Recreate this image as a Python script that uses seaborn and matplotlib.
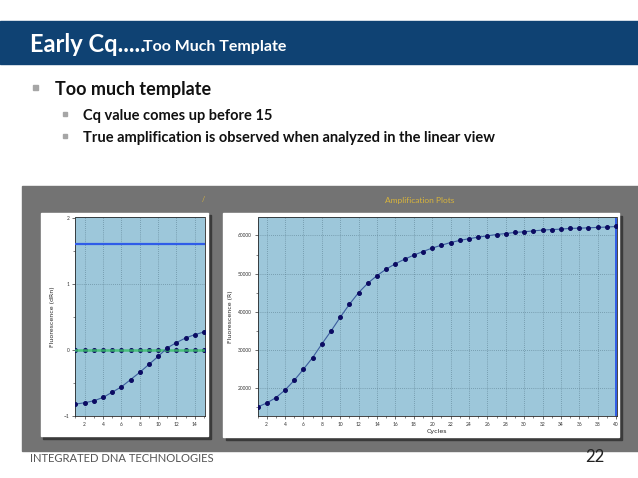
import matplotlib
matplotlib.use("Agg")
import matplotlib.pyplot as plt
import seaborn as sns
import pandas as pd
from matplotlib.patches import Rectangle
from matplotlib.ticker import MultipleLocator

# --- data ---
cycles_lin = list(range(1, 41))
fluor_lin = [15100, 16150, 17550, 19550, 22100, 25000, 28050, 31600, 35000, 38600,
             42000, 45050, 47500, 49500, 51200, 52600, 53800, 54850, 55800, 56700,
             57450, 58150, 58700, 59150, 59550, 59900, 60250, 60500, 60800, 60950,
             61200, 61400, 61550, 61650, 61850, 61900, 62000, 62100, 62200, 62350]

cycles_log = list(range(1, 16))
drn_sample = [-0.82, -0.80, -0.77, -0.72, -0.64, -0.56, -0.45, -0.34, -0.22, -0.10,
              0.03, 0.11, 0.18, 0.23, 0.27]
drn_flat = [0.0, 0.0, 0.0, 0.0, 0.0, 0.0, 0.0, 0.0, 0.0, 0.0, 0.0, 0.0, 0.0, 0.0, 0.0]
threshold_green = 0.0
threshold_blue = 1.6

left_yticks = [-1, 0, 1, 2]
left_xticks = [2, 4, 6, 8, 10, 12, 14]
right_yticks = [20000, 30000, 40000, 50000, 60000]
right_xticks = list(range(2, 41, 2))

sns.set_style("ticks")
plt.rcParams['font.family'] = ['Lato', 'DejaVu Sans']

W, H = 638, 478
fig = plt.figure(figsize=(6.38, 4.78), dpi=100)
fig.patch.set_facecolor("white")


def box(x0, y0, x1, y1, **kw):
    # pixel coords (top-left origin) -> figure fraction
    fig.patches.append(Rectangle((x0 / W, 1 - y1 / H), (x1 - x0) / W, (y1 - y0) / H,
                                 transform=fig.transFigure, zorder=-5, **kw))


def px(x, y):
    return x / W, 1 - y / H


# title bar
box(0, 21, W, 64, color="#0f4273")
fig.text(*px(30, 45), "Early Cq.....", color="white", fontsize=17, fontweight="bold", va="center")
fig.text(*px(143, 47), "Too Much Template", color="white", fontsize=11.5, fontweight="bold", va="center")

# bullets
box(33, 85, 38, 90, color="#a6a6a6")
fig.text(*px(55, 90), "Too much template", fontsize=13, fontweight="bold", va="center", color="#111111")
for yy, txt in [(116, "Cq value comes up before 15"),
                (138, "True amplification is observed when analyzed in the linear view")]:
    box(63, yy - 4, 67, yy, color="#a6a6a6")
    fig.text(*px(83, yy), txt, fontsize=10.5, fontweight="bold", va="center", color="#111111")

# grey screenshot panel and windows
box(22, 186, W, 451, color="#737373")
box(43, 215, 211, 439, color="#3a3a3a")
box(41, 213, 208, 436, color="white")
box(226, 216, 622, 440, color="#3a3a3a")
box(223, 213, 619, 437, color="white")
fig.text(*px(420, 200), "Amplification Plots", color="#d8b43c", fontsize=6, ha="center", va="center")
fig.text(*px(203, 200), "/", color="#d8b43c", fontsize=5, ha="center", va="center")

# footer
fig.text(*px(30, 459), "INTEGRATED DNA TECHNOLOGIES", color="#555555", fontsize=8.1, va="center")
fig.text(*px(585, 457), "22", color="#222222", fontsize=12, va="center")

plot_bg = "#9dc7da"
grid_kw = dict(color="#56798a", linestyle=(0, (1, 2)), linewidth=0.5)
mk = dict(marker="o", markersize=2.8, markerfacecolor="#0b0b62", markeredgecolor="#0b0b62")

# ---- left (dRn) plot ----
axl = fig.add_axes([75 / W, 1 - 416 / H, (204.5 - 75) / W, (416 - 217.5) / H])
axl.set_zorder(5)
axl.set_facecolor(plot_bg)
df_l = pd.DataFrame({"Cycle": cycles_log, "dRn": drn_sample, "flat": drn_flat})
axl.axhline(threshold_blue, color="#2f5ce8", linewidth=1.6, zorder=3)
sns.lineplot(data=df_l, x="Cycle", y="flat", ax=axl, color="#3cbf6e", linewidth=0, zorder=4, **mk)
axl.axhline(threshold_green, color="#3cbf6e", linewidth=1.8, zorder=4.5, alpha=0.85)
sns.lineplot(data=df_l, x="Cycle", y="dRn", ax=axl, color="#3b5d9e", linewidth=0.8, zorder=5, **mk)
axl.set_xlim(0.95, 15.05)
axl.set_ylim(-1, 2)
axl.set_xticks(left_xticks)
axl.set_yticks(left_yticks)
axl.yaxis.set_minor_locator(MultipleLocator(0.5))
axl.xaxis.set_minor_locator(MultipleLocator(1))
for v in left_xticks:
    axl.axvline(v, zorder=1, **grid_kw)
for v in [1]:
    axl.axhline(v, zorder=1, **grid_kw)
axl.set_xlabel("")
axl.set_ylabel("Fluorescence (dRn)", fontsize=4.5, labelpad=6, family=["DejaVu Sans"])
axl.tick_params(labelsize=3.5, length=2, width=0.5, pad=2, colors="#333333")
axl.tick_params(which="minor", length=1.2, width=0.4)
for s in axl.spines.values():
    s.set_linewidth(0.6)

# ---- right (linear) plot ----
axr = fig.add_axes([257.5 / W, 1 - 416 / H, (617 - 257.5) / W, (416 - 217.5) / H])
axr.set_zorder(5)
axr.set_facecolor(plot_bg)
df_r = pd.DataFrame({"Cycles": cycles_lin, "Fluorescence": fluor_lin})
sns.lineplot(data=df_r, x="Cycles", y="Fluorescence", ax=axr, color="#3b5d9e", linewidth=0.8,
             zorder=5, **mk)
axr.axvline(40, color="#2f5ce8", linewidth=1.4, zorder=4)
axr.set_xlim(1, 40.1)
axr.set_ylim(12750, 64700)
axr.set_xticks(right_xticks)
axr.set_yticks(right_yticks)
axr.yaxis.set_minor_locator(MultipleLocator(5000))
axr.xaxis.set_minor_locator(MultipleLocator(1))
for v in right_xticks:
    axr.axvline(v, zorder=1, **grid_kw)
for v in right_yticks:
    axr.axhline(v, zorder=1, **grid_kw)
axr.set_xlabel("Cycles", fontsize=4.5, labelpad=2, family=["DejaVu Sans"])
axr.set_ylabel("Fluorescence (R)", fontsize=4.5, labelpad=4, family=["DejaVu Sans"])
axr.tick_params(labelsize=3.5, length=2, width=0.5, pad=2, colors="#333333")
axr.tick_params(which="minor", length=1.2, width=0.4)
for s in axr.spines.values():
    s.set_linewidth(0.6)

fig.savefig("out.png", dpi=100)
